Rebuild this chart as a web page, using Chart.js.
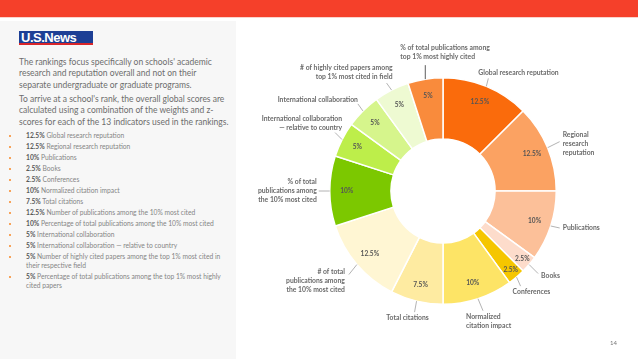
<!DOCTYPE html>
<html lang="en">
<head>
    <meta charset="UTF-8">
    <title>U.S. News Global Rankings - Indicator Weights</title>
    <script src="https://cdn.jsdelivr.net/npm/chart.js"></script>
    <style>
        html, body {
            margin: 0;
            padding: 0;
            width: 638px;
            height: 359px;
            overflow: hidden;
            background: #fff;
            font-family: 'Lato', sans-serif;
        }
        .topbar {
            position: absolute;
            left: 0; top: 0;
            width: 638px; height: 17px;
            background: #f5402a;
            border-bottom: 1px solid #fbd3cc;
        }
        .panel {
            position: absolute;
            left: 0; top: 21px;
            width: 236px; height: 338px;
            background: #f7f7f7;
        }
        .logo {
            position: absolute;
            left: 19px; top: 31px;
            width: 74px; height: 14px;
            background: #1d3f95;
            border-bottom: 2px solid #d9262a;
            color: #fff;
            font: bold 13px 'Liberation Sans', sans-serif;
            line-height: 14px;
            letter-spacing: -0.5px;
            padding-left: 2px;
            box-sizing: border-box;
        }
        .intro {
            position: absolute;
            left: 19px;
            width: 215px;
            margin: 0;
            font-size: 8.5px;
            line-height: 11.3px;
            color: #6d6d6d;
        }
        ul.weights {
            position: absolute;
            left: 0; top: 131px;
            margin: 0; padding: 0;
            list-style: none;
            width: 224px;
        }
        ul.weights li {
            position: relative;
            padding-left: 26px;
            font-size: 6.7px;
            line-height: 9px;
            color: #858585;
            margin-bottom: 2px;
        }
        ul.weights li::before {
            content: '';
            position: absolute;
            left: 9px; top: 3.5px;
            width: 2px; height: 2px;
            background: #f7a35a;
        }
        ul.weights b { color: #5a5a5a; }
        .chart-box {
            position: absolute;
            left: 236px; top: 21px;
            width: 402px; height: 338px;
        }
        .page {
            position: absolute;
            left: 610px; top: 339px;
            font-size: 6px;
            color: #777;
        }
    </style>
</head>
<body>
    <div class="topbar"></div>
    <div class="panel"></div>
    <div class="logo">U.S.News</div>

    <p class="intro" style="top:57px">The rankings focus specifically on schools' academic<br>research and reputation overall and not on their<br>separate undergraduate or graduate programs.</p>
    <p class="intro" style="top:94px">To arrive at a school's rank, the overall global scores are<br>calculated using a combination of the weights and z-<br>scores for each of the 13 indicators used in the rankings.</p>

    <ul class="weights" id="weightList"></ul>

    <div class="chart-box"><canvas id="weightsChart"></canvas></div>
    <div class="page">14</div>

    <script>
        // indicator names (chart order, clockwise from 12 o'clock)
        const categories = [
            'Global research reputation',
            'Regional research reputation',
            'Publications',
            'Books',
            'Conferences',
            'Normalized citation impact',
            'Total citations',
            'Number of publications among the 10% most cited',
            'Percentage of total publications among the 10% most cited',
            'International collaboration \u2014 relative to country',
            'International collaboration',
            'Number of highly cited papers among the top 1% most cited in their respective field',
            'Percentage of total publications among the top 1% most highly cited papers'
        ];
        const weights = [12.5, 12.5, 10, 2.5, 2.5, 10, 7.5, 12.5, 10, 5, 5, 5, 5];
        const sliceLabels = [
            ['Global research reputation'],
            ['Regional', 'research', 'reputation'],
            ['Publications'],
            ['Books'],
            ['Conferences'],
            ['Normalized', 'citation impact'],
            ['Total citations'],
            ['# of total', 'publications among', 'the 10% most cited'],
            ['% of total', 'publications among', 'the 10% most cited'],
            ['International collaboration', '\u2014 relative to country'],
            ['International collaboration'],
            ['# of highly cited papers among', 'top 1% most cited in field'],
            ['% of total publications among', 'top 1% most highly cited']
        ];
        // order used by the bullet list on the left
        const listOrder = [0, 1, 2, 3, 4, 5, 6, 7, 8, 10, 9, 11, 12];

        const colors = ['#fa6b0c', '#fba262', '#fcc099', '#fddccb', '#f5c600', '#fde466',
                        '#feeba1', '#fff6d3', '#7cc800', '#bdee4a', '#d6f58c', '#eefad2', '#f98b3c'];

        // leader end / text offsets from the outer edge point of each slice
        const labelLayout = [
            { lead: [2, -8],  text: [-8, -14],  align: 'left' },
            { lead: [12, -6], text: [15, -13],  align: 'left' },
            { lead: [9, 2],   text: [12, 2],    align: 'left' },
            { lead: [9, 9],   text: [12, 11],   align: 'left' },
            { lead: [4, 9],   text: [-4, 15],   align: 'left' },
            { lead: [5, 12],  text: [-12, 18],  align: 'left' },
            { lead: [-2, 11], text: [-9, 17],   align: 'center' },
            { lead: [-8, 10], text: [-12, 7],   align: 'right' },
            { lead: [-11, 0], text: [-13, -9],  align: 'right' },
            { lead: [-7, -7], text: [0, -21],   align: 'right' },
            { lead: [-5, -7], text: [-5, -11],  align: 'right' },
            { lead: [-5, -7], text: [1, -22],   align: 'right' },
            { lead: [0, -14], text: [-25, -31], align: 'left' }
        ];

        // bullet list
        const list = document.getElementById('weightList');
        listOrder.forEach(i => {
            const li = document.createElement('li');
            li.innerHTML = '<b>' + weights[i] + '%</b> ' + categories[i];
            list.appendChild(li);
        });

        const sliceText = {
            id: 'sliceText',
            afterDatasetsDraw(chart) {
                const ctx = chart.ctx;
                const meta = chart.getDatasetMeta(0);
                ctx.save();
                meta.data.forEach((arc, i) => {
                    const mid = (arc.startAngle + arc.endAngle) / 2;
                    const cos = Math.cos(mid), sin = Math.sin(mid);

                    // value inside the ring
                    const r = arc.outerRadius - (weights[i] < 5 ? 9 : 17);
                    ctx.font = 'bold 6.6px Lato';
                    ctx.fillStyle = '#555';
                    ctx.textAlign = 'center';
                    ctx.textBaseline = 'middle';
                    ctx.fillText(weights[i] + '%', arc.x + cos * r, arc.y + sin * r);

                    // leader line and name outside
                    const ax = arc.x + cos * arc.outerRadius;
                    const ay = arc.y + sin * arc.outerRadius;
                    const lay = labelLayout[i];
                    ctx.strokeStyle = i === 12 ? '#333' : '#a0a0a0';
                    ctx.lineWidth = 0.8;
                    ctx.beginPath();
                    ctx.moveTo(ax, ay);
                    ctx.lineTo(ax + lay.lead[0], ay + lay.lead[1]);
                    ctx.stroke();

                    ctx.font = 'bold 6.8px Lato';
                    ctx.fillStyle = '#6a6a6a';
                    ctx.textAlign = lay.align;
                    sliceLabels[i].forEach((line, k) => {
                        ctx.fillText(line, ax + lay.text[0], ay + lay.text[1] + k * 9);
                    });
                });
                ctx.restore();
            }
        };

        new Chart(document.getElementById('weightsChart'), {
            type: 'doughnut',
            data: {
                labels: categories,
                datasets: [{
                    data: weights,
                    backgroundColor: colors,
                    borderColor: '#ffffff',
                    borderWidth: 1.5
                }]
            },
            options: {
                responsive: true,
                maintainAspectRatio: false,
                animation: false,
                cutout: '46%',
                layout: { padding: { left: 93, right: 81, top: 56, bottom: 54 } },
                plugins: {
                    legend: { display: false },
                    tooltip: { enabled: false }
                }
            },
            plugins: [sliceText]
        });
    </script>
</body>
</html>
